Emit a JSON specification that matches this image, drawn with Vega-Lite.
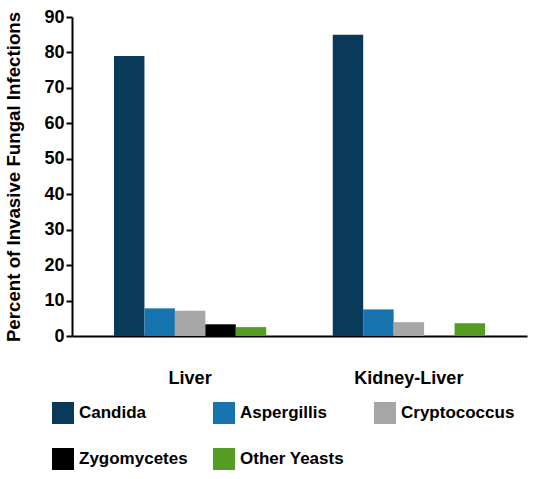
{
  "$schema": "https://vega.github.io/schema/vega-lite/v6.json",
  "autosize": {"type": "none"},
  "padding": {"left": 72, "top": 17, "right": 23, "bottom": 143},
  "width": 455,
  "height": 319,
  "background": "white",
  "data": {
    "values": [
      {"group": "Liver", "fungus": "Candida", "percent": 79},
      {"group": "Liver", "fungus": "Aspergillis", "percent": 7.8},
      {"group": "Liver", "fungus": "Cryptococcus", "percent": 7.1},
      {"group": "Liver", "fungus": "Zygomycetes", "percent": 3.3},
      {"group": "Liver", "fungus": "Other Yeasts", "percent": 2.5},
      {"group": "Kidney-Liver", "fungus": "Candida", "percent": 85},
      {"group": "Kidney-Liver", "fungus": "Aspergillis", "percent": 7.5},
      {"group": "Kidney-Liver", "fungus": "Cryptococcus", "percent": 3.9},
      {"group": "Kidney-Liver", "fungus": "Zygomycetes", "percent": 0},
      {"group": "Kidney-Liver", "fungus": "Other Yeasts", "percent": 3.6}
    ]
  },
  "mark": {"type": "bar"},
  "encoding": {
    "x": {
      "field": "group",
      "type": "nominal",
      "sort": ["Liver", "Kidney-Liver"],
      "title": null,
      "scale": {"paddingInner": 0.304, "paddingOuter": 0.192},
      "axis": {
        "labelAngle": 0,
        "ticks": false,
        "labelPadding": 33,
        "labelFontSize": 18,
        "labelFontWeight": "bold",
        "labelColor": "black",
        "domainColor": "black",
        "domainWidth": 2
      }
    },
    "xOffset": {
      "field": "fungus",
      "type": "nominal",
      "sort": ["Candida", "Aspergillis", "Cryptococcus", "Zygomycetes", "Other Yeasts"],
      "scale": {"paddingInner": 0, "paddingOuter": 0}
    },
    "y": {
      "field": "percent",
      "type": "quantitative",
      "title": "Percent of Invasive Fungal Infections",
      "scale": {"domain": [0, 90], "nice": false},
      "axis": {
        "values": [0, 10, 20, 30, 40, 50, 60, 70, 80, 90],
        "grid": false,
        "tickSize": 6,
        "tickColor": "black",
        "tickWidth": 2,
        "labelPadding": 2,
        "labelFontSize": 18,
        "labelFontWeight": "bold",
        "labelColor": "black",
        "domainColor": "black",
        "domainWidth": 2,
        "titleFontSize": 18.7,
        "titleFontWeight": "bold",
        "titleColor": "black",
        "titlePadding": 20
      }
    },
    "color": {
      "field": "fungus",
      "type": "nominal",
      "scale": {
        "domain": ["Candida", "Aspergillis", "Cryptococcus", "Zygomycetes", "Other Yeasts"],
        "range": ["#0a3a5a", "#1673ad", "#a6a6a6", "#000000", "#549c22"]
      },
      "legend": {
        "title": null,
        "orient": "none",
        "legendX": -20,
        "legendY": 385,
        "direction": "horizontal",
        "columns": 3,
        "gridAlign": "all",
        "columnPadding": 20,
        "rowPadding": 24,
        "symbolType": "square",
        "symbolSize": 484,
        "symbolStrokeWidth": 0,
        "symbolOpacity": 1,
        "labelFontSize": 17,
        "labelFontWeight": "bold",
        "labelColor": "black",
        "labelOffset": 5,
        "labelLimit": 200
      }
    }
  },
  "config": {
    "font": "Liberation Sans",
    "view": {"stroke": null}
  }
}
